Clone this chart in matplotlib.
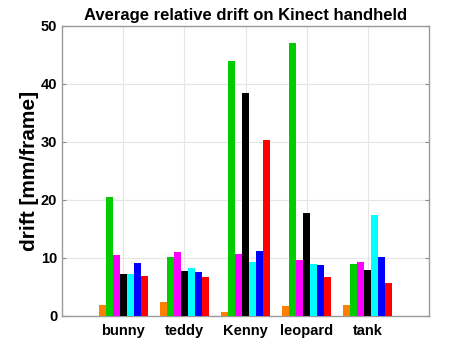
import numpy as np
import matplotlib
matplotlib.use("Agg")
import matplotlib.pyplot as plt

plt.rcParams['font.family'] = ['Liberation Sans', 'DejaVu Sans']
plt.rcParams['font.weight'] = 'bold'

objects = ["bunny", "teddy", "Kenny", "leopard", "tank"]

# one list per method (colour), values in mm/frame
orange = [1.9, 2.35, 0.75, 1.8, 1.85]
green = [20.5, 10.2, 43.9, 47.1, 8.9]
magenta = [10.5, 11.0, 10.7, 9.7, 9.3]
black = [7.3, 7.7, 38.4, 17.8, 7.9]
cyan = [7.3, 8.25, 9.3, 8.9, 17.4]
blue = [9.1, 7.5, 11.2, 8.85, 10.1]
red = [6.9, 6.8, 30.4, 6.8, 5.6]

series = [orange, green, magenta, black, cyan, blue, red]
colors = ["#ff8000", "#00cc00", "#ff00ff", "#000000", "#00ffff", "#0000ff", "#ff0000"]

fig = plt.figure(figsize=(4.74, 3.55), dpi=100)
ax = fig.add_axes([0.131, 0.110, 0.774, 0.817])

x = np.arange(1, len(objects) + 1)
n = len(series)
w = 0.8 / n
for i, (vals, c) in enumerate(zip(series, colors)):
    ax.bar(x + (i - (n - 1) / 2) * w, vals, width=w, color=c, zorder=3)

ax.set_xlim(0, 6)
ax.set_ylim(0, 50)
ax.set_xticks(x)
ax.set_xticklabels(objects)
ax.set_yticks([0, 10, 20, 30, 40, 50])
ax.grid(True, color="#e6e6e6", linewidth=0.8, zorder=0)
ax.tick_params(direction="in", length=3, color="#8c8c8c", labelsize=10.5,
               right=True, top=False, bottom=False)
ax.tick_params(axis="x", pad=6)
for s in ax.spines.values():
    s.set_color("#9a9a9a")
    s.set_linewidth(1.0)

ax.set_title("Average relative drift on Kinect handheld", fontsize=12,
             fontweight="bold", pad=4)
ax.set_ylabel("drift [mm/frame]", fontsize=15, fontweight="bold", labelpad=1)

fig.savefig("out.png", dpi=100)
